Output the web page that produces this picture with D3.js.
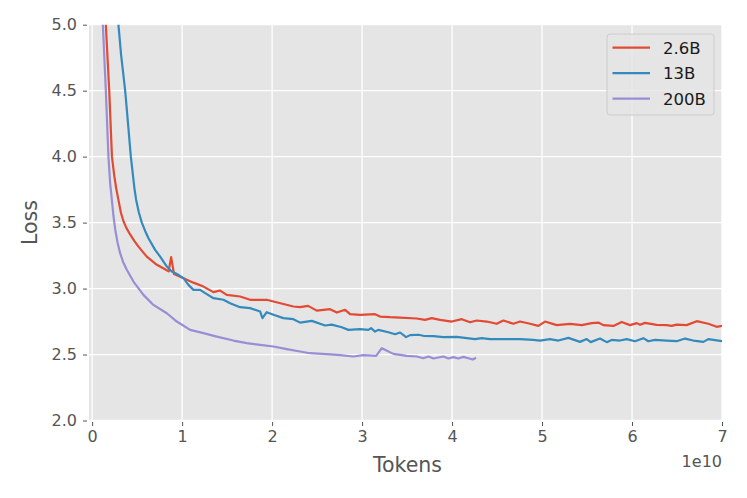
<!DOCTYPE html>
<html>
<head>
<meta charset="utf-8">
<script src="https://cdn.jsdelivr.net/npm/d3@7"></script>
<style>
  html, body { margin: 0; padding: 0; background: #ffffff; }
  svg { display: block; }
  text { font-family: "DejaVu Sans", sans-serif; }
</style>
</head>
<body>
<svg id="chart" width="747" height="498"></svg>
<script>
// ---- data (tokens in units of 1e10, loss) ----
const seriesNames = ["2.6B", "13B", "200B"];
const seriesColors = ["#E24A33", "#348ABD", "#988ED5"];
const xTicks = [0, 1, 2, 3, 4, 5, 6, 7];
const yTicks = [2.0, 2.5, 3.0, 3.5, 4.0, 4.5, 5.0];

const loss26B = [
  [0.13,5.4],[0.152,5.0],[0.19,4.5],[0.22,4.0],[0.245,3.86],[0.267,3.76],[0.292,3.672],[0.32,3.575],
  [0.348,3.51],[0.38,3.46],[0.422,3.41],[0.47,3.36],[0.515,3.318],[0.607,3.242],[0.719,3.18],[0.80,3.15],
  [0.85,3.13],[0.878,3.238],
  [0.91,3.11],[1.015,3.079],[1.126,3.045],[1.237,3.015],[1.348,2.973],[1.422,2.985],[1.496,2.952],
  [1.644,2.94],[1.756,2.915],[1.94,2.915],[2.015,2.902],[2.237,2.864],[2.31,2.859],[2.40,2.869],
  [2.496,2.833],[2.644,2.844],[2.719,2.818],[2.811,2.839],[2.867,2.806],[2.978,2.801],[3.144,2.806],
  [3.2,2.788],[3.311,2.783],[3.422,2.78],[3.607,2.773],[3.7,2.763],[3.774,2.776],[3.867,2.763],
  [3.997,2.75],[4.108,2.768],[4.2,2.745],[4.274,2.758],[4.385,2.75],[4.496,2.733],[4.57,2.758],
  [4.681,2.733],[4.756,2.75],[4.867,2.733],[4.959,2.717],[5.033,2.75],[5.163,2.723],[5.311,2.733],
  [5.441,2.723],[5.552,2.738],[5.626,2.742],[5.681,2.723],[5.793,2.717],[5.885,2.747],[5.978,2.723],
  [6.052,2.738],[6.089,2.725],[6.144,2.74],[6.274,2.725],[6.385,2.723],[6.441,2.717],[6.496,2.727],
  [6.607,2.723],[6.719,2.753],[6.848,2.733],[6.941,2.71],[7.0,2.717]
];

const loss13B = [
  [0.27,5.3],[0.292,5.0],[0.322,4.77],[0.367,4.5],[0.40,4.24],[0.43,4.0],[0.47,3.76],[0.489,3.672],
  [0.52,3.575],[0.552,3.5],[0.59,3.435],
  [0.626,3.382],[0.7,3.293],[0.756,3.242],[0.83,3.167],[0.885,3.129],[0.959,3.104],[1.015,3.079],
  [1.07,3.028],[1.126,2.99],[1.2,2.99],[1.256,2.965],[1.348,2.927],[1.459,2.915],[1.533,2.889],
  [1.644,2.859],[1.756,2.852],[1.867,2.826],[1.893,2.776],[1.94,2.821],[2.015,2.801],[2.126,2.776],
  [2.237,2.768],[2.311,2.742],[2.441,2.755],[2.589,2.72],[2.663,2.727],[2.774,2.707],[2.848,2.687],
  [2.978,2.692],[3.07,2.687],[3.1,2.70],[3.144,2.674],[3.181,2.687],[3.292,2.669],[3.367,2.654],
  [3.422,2.667],[3.489,2.632],[3.533,2.647],[3.626,2.65],[3.681,2.642],[3.793,2.639],[3.904,2.632],
  [4.052,2.634],[4.163,2.624],[4.256,2.617],[4.33,2.624],[4.422,2.617],[4.607,2.617],[4.756,2.617],
  [4.904,2.611],[4.978,2.606],[5.089,2.617],[5.181,2.606],[5.293,2.626],[5.422,2.596],[5.496,2.617],
  [5.541,2.594],[5.644,2.621],[5.719,2.594],[5.774,2.611],[5.867,2.606],[5.941,2.617],[6.033,2.601],
  [6.126,2.624],[6.181,2.601],[6.256,2.611],[6.385,2.606],[6.496,2.601],[6.589,2.621],[6.681,2.606],
  [6.793,2.596],[6.848,2.617],[7.0,2.601]
];

const loss200B = [
  [0.10,5.5],[0.119,5.0],[0.152,4.5],[0.181,4.0],[0.2,3.8],[0.219,3.672],[0.237,3.55],[0.256,3.45],
  [0.282,3.35],[0.311,3.268],[0.345,3.2],
  [0.385,3.142],[0.459,3.053],[0.57,2.952],[0.681,2.876],[0.83,2.813],[0.941,2.75],[1.089,2.687],
  [1.237,2.662],[1.385,2.636],[1.57,2.606],[1.719,2.586],[1.867,2.573],[2.015,2.561],[2.163,2.541],
  [2.311,2.523],[2.42,2.51],[2.607,2.503],[2.756,2.495],[2.904,2.485],[3.015,2.495],[3.156,2.49],
  [3.219,2.548],[3.348,2.505],[3.496,2.49],[3.607,2.485],[3.681,2.472],[3.737,2.485],[3.793,2.47],
  [3.904,2.485],[3.959,2.47],[4.015,2.48],[4.07,2.47],[4.126,2.482],[4.181,2.472],[4.23,2.462],
  [4.267,2.475]
];

const allSeries = [loss26B, loss13B, loss200B];

// ---- layout ----
const svg = d3.select("#chart");
const pLeft = 89, pRight = 722, pTop = 24.7, pBottom = 420.5;

const x = d3.scaleLinear().domain([-0.035, 7]).range([pLeft, pRight]);
const y = d3.scaleLinear().domain([2.0, 5.0]).range([pBottom, pTop]);

svg.append("defs").append("clipPath").attr("id", "plotclip")
  .append("rect").attr("x", pLeft).attr("y", pTop)
  .attr("width", pRight - pLeft).attr("height", pBottom - pTop);

// background
svg.append("rect").attr("x", pLeft).attr("y", pTop)
  .attr("width", pRight - pLeft).attr("height", pBottom - pTop)
  .attr("fill", "#E5E5E5");

// grid
const grid = svg.append("g");
grid.selectAll("line.gx").data(xTicks).join("line")
  .attr("class", "gx")
  .attr("x1", d => x(d)).attr("x2", d => x(d))
  .attr("y1", pTop).attr("y2", pBottom)
  .attr("stroke", "#ffffff").attr("stroke-width", 1.3);
grid.selectAll("line.gy").data(yTicks).join("line")
  .attr("class", "gy")
  .attr("y1", d => y(d)).attr("y2", d => y(d))
  .attr("x1", pLeft).attr("x2", pRight)
  .attr("stroke", "#ffffff").attr("stroke-width", 1.3);

// axes
const xAxis = d3.axisBottom(x).tickValues(xTicks).tickFormat(d3.format("d"))
  .tickSizeInner(4).tickSizeOuter(0).tickPadding(5);
const gx = svg.append("g").attr("transform", `translate(0,${pBottom + 1.5})`).call(xAxis);
gx.select(".domain").remove();
gx.selectAll(".tick line").attr("stroke", "#555555").attr("stroke-width", 1);
gx.selectAll(".tick text").attr("fill", "#555555").attr("font-size", "16px")
  .attr("font-family", "DejaVu Sans");

const yAxis = d3.axisLeft(y).tickValues(yTicks).tickFormat(d3.format(".1f"))
  .tickSizeInner(4).tickSizeOuter(0).tickPadding(6);
const gy = svg.append("g").attr("transform", `translate(${pLeft - 2},0)`).call(yAxis);
gy.select(".domain").remove();
gy.selectAll(".tick line").attr("stroke", "#555555").attr("stroke-width", 1);
gy.selectAll(".tick text").attr("fill", "#555555").attr("font-size", "16px")
  .attr("font-family", "DejaVu Sans");

// series lines
const line = d3.line().x(d => x(d[0])).y(d => y(d[1]));
const plot = svg.append("g").attr("clip-path", "url(#plotclip)");
allSeries.forEach((s, i) => {
  plot.append("path").datum(s)
    .attr("d", line)
    .attr("fill", "none")
    .attr("stroke", seriesColors[i])
    .attr("stroke-width", 2.2)
    .attr("stroke-linejoin", "round")
    .attr("stroke-linecap", "butt");
});

// axis labels
svg.append("text").attr("x", (pLeft + pRight) / 2 + 2).attr("y", 472)
  .attr("text-anchor", "middle").attr("fill", "#555555")
  .attr("font-size", "20.5px").text("Tokens");
svg.append("text")
  .attr("transform", `translate(37,${(pTop + pBottom) / 2}) rotate(-90)`)
  .attr("text-anchor", "middle").attr("fill", "#555555")
  .attr("font-size", "20.5px").text("Loss");
svg.append("text").attr("x", pRight).attr("y", 467)
  .attr("text-anchor", "end").attr("fill", "#555555")
  .attr("font-size", "16px").text("1e10");

// legend
const lg = svg.append("g");
lg.append("rect").attr("x", 607).attr("y", 34).attr("width", 107).attr("height", 81)
  .attr("rx", 3).attr("ry", 3)
  .attr("fill", "#E5E5E5").attr("fill-opacity", 0.8)
  .attr("stroke", "#cccccc").attr("stroke-width", 1);
seriesNames.forEach((name, i) => {
  const yy = 47.7 + i * 25.5;
  lg.append("line").attr("x1", 612.5).attr("x2", 650).attr("y1", yy).attr("y2", yy)
    .attr("stroke", seriesColors[i]).attr("stroke-width", 2.2);
  lg.append("text").attr("x", 663).attr("y", yy + 5.8)
    .attr("fill", "#1a1a1a").attr("font-size", "16.5px").text(name);
});
</script>
</body>
</html>
